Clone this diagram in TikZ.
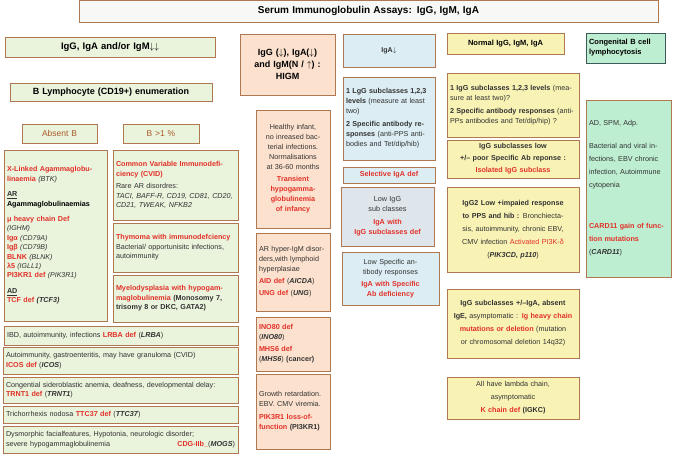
\documentclass[tikz,border=0pt]{standalone}
\usepackage{fontspec}
\setmainfont{Liberation Sans}
\usetikzlibrary{backgrounds}
\definecolor{brd}{RGB}{176,120,80}
\definecolor{gfill}{RGB}{234,243,220}
\definecolor{ofill}{RGB}{252,226,206}
\definecolor{bfill}{RGB}{220,238,244}
\definecolor{bbfill}{RGB}{222,230,236}
\definecolor{yfill}{RGB}{248,242,180}
\definecolor{mfill}{RGB}{190,238,210}
\definecolor{rd}{RGB}{226,48,40}
\definecolor{txt}{RGB}{50,50,50}
\definecolor{abs}{RGB}{170,90,40}
\newcommand\R[1]{\textcolor{rd}{\textbf{#1}}}
\newcommand\BI[1]{\textbf{\textit{#1}}}
\newcommand\bx[7]{%
 \pgfmathsetmacro\bw{#4-#2}\pgfmathsetmacro\bh{#5-#3}\pgfmathsetmacro\tw{#4-#2-6}%
 \node[box,#6,minimum width=\bw pt,minimum height=\bh pt,text width=\tw pt] (#1) at ({(#2+#4)/2},{-(#3+#5)/2}) {#7};}
\newcommand\cn[4]{\coordinate (cx) at (#3,0);\draw[conn,double=#4] (#1.south -| cx) -- (#2.north -| cx);}
\tikzset{
 box/.style={draw=brd,line width=0.8pt,inner xsep=3pt,inner ysep=2pt,text=txt,font=\fontsize{7.2}{9.4}\selectfont},
 G/.style={fill=gfill},O/.style={fill=ofill},B/.style={fill=bfill},BB/.style={fill=bbfill},
 Y/.style={fill=yfill},M/.style={fill=mfill},
 C/.style={align=center},L/.style={align=left},
 hd/.style={font=\fontsize{9.5}{11.5}\selectfont\bfseries,text=black,align=center},
 conn/.style={draw=brd,line width=0.8pt,double distance=4.6pt}
}
\begin{document}
\begin{tikzpicture}[x=1pt,y=1pt]
\useasboundingbox[fill=white] (0,0) rectangle (673,-455);
\bx{top}{79}{0}{658}{22}{fill={rgb,255:red,248;green,248;blue,246},hd,font=\fontsize{10}{12}\selectfont\bfseries}{Serum Immunoglobulin Assays: IgG, IgM, IgA}
% left column
\bx{igg}{5}{37}{215}{57}{G,hd}{IgG, IgA and/or IgM$\downarrow\downarrow$}
\bx{blym}{10}{83}{212}{101}{G,hd,font=\fontsize{9}{11}\selectfont\bfseries}{B Lymphocyte (CD19+) enumeration}
\bx{absb}{22}{124}{97}{143}{G,C,text=abs,font=\fontsize{8.5}{10}\selectfont}{Absent B}
\bx{bone}{123}{124}{199}{143}{G,C,text=abs,font=\fontsize{8.5}{10}\selectfont}{B >1 \%}
\bx{xla}{4}{150}{107}{321}{G,L}{\R{X-Linked Agammaglobu-linaemia} \textit{(BTK)}\\[6pt]
 \textbf{\underline{AR}}\\ \textbf{\textcolor{black}{Agammaglobulinaemias}}\\[6pt]
 \R{μ heavy chain Def}\\ {\scriptsize\textit{(IGHM)}}\\
 \R{Igα} {\scriptsize\textit{(CD79A)}}\\ \R{Igβ} {\scriptsize\textit{(CD79B)}}\\
 \R{BLNK} {\scriptsize\textit{(BLNK)}}\\ \R{λ5} {\scriptsize\textit{(IGLL1)}}\\
 \R{PI3KR1 def} {\scriptsize\textit{(PIK3R1)}}\\[6pt]
 \textbf{\underline{AD}}\\ \R{TCF def} \BI{(TCF3)}}
\bx{cvid}{113}{150}{238}{220}{G,L}{\R{Common Variable Immunodeficiency (CVID)}\\[3pt] Rare AR disordres:\\ \textit{TACI, BAFF-R, CD19, CD81, CD20, CD21, TWEAK, NFKB2}}
\bx{thy}{113}{223}{238}{272}{G,L}{\R{Thymoma with immunodefciency} Bacterial/ opportunisitc infections, autoimmunity}
\bx{mye}{113}{275}{238}{322}{G,L}{\R{Myelodysplasia with hypogammaglobulinemia} \textbf{(Monosomy 7, trisomy 8 or DKC, GATA2)}}
\bx{ibd}{4}{326}{238}{345}{G,L}{IBD, autoimmunity, infections \R{LRBA def} (\BI{LRBA})}
\bx{icos}{3}{347}{238}{374}{G,L}{Autoimmunity, gastroenteritis, may have granuloma (CVID)\\ \R{ICOS def} (\BI{ICOS})}
\bx{trnt}{3}{377}{238}{403}{G,L}{Congential sideroblastic anemia, deafness, developmental delay: \R{TRNT1 def} (\BI{TRNT1})}
\bx{ttc}{3}{406}{238}{423}{G,L}{Trichorrhexis nodosa \R{TTC37 def} (\BI{TTC37})}
\bx{cdg}{3}{426}{238}{453}{G,L}{Dysmorphic facialfeatures, Hypotonia, neurologic disorder;\\ severe hypogammaglobulinemia\hfill\R{CDG-IIb\_}(\BI{MOGS})}
% HIGM column
\bx{higm}{240}{34}{335}{95}{O,hd,font=\fontsize{9}{12}\selectfont\bfseries}{IgG ($\downarrow$), IgA($\downarrow$)\\ and IgM(N / $\uparrow$) :\\ HIGM}
\bx{trans}{256}{110}{330}{228}{O,C,font=\fontsize{7.2}{10}\selectfont}{Healthy infant, no inreased bacterial infections. Normalisations at 36-60 months\\[2pt] \R{Transient hypogamma-globulinemia of infancy}}
\bx{arh}{256}{233}{330}{311}{O,L,font=\fontsize{7.2}{10}\selectfont}{AR hyper-IgM disorders,with lymphoid hyperplasiae\\[2pt] \R{AID def} (\BI{AICDA})\\[2pt] \R{UNG def} (\BI{UNG})}
\bx{ino}{256}{317}{330}{371}{O,L,font=\fontsize{7.2}{10}\selectfont}{\R{INO80 def}\\ (\BI{INO80})\\[2pt] \R{MHS6 def}\\ (\BI{MHS6}) \textbf{(cancer)}}
\bx{grow}{256}{374}{330}{449}{O,L,font=\fontsize{7.2}{10}\selectfont}{Growth retardation. EBV. CMV viremia.\\[3pt] \R{PIK3R1 loss-of-function} \textbf{(PI3KR1)}}
% IgA column
\bx{iga}{343}{34}{435}{67}{B,C,font=\fontsize{7}{9}\selectfont\bfseries}{IgA$\downarrow$}
\bx{igaa}{343}{77}{435}{160}{B,L,font=\fontsize{7.2}{10}\selectfont}{\textbf{1 LgG subclasses 1,2,3 levels} (measure at least two)\\[3pt] \textbf{2 Specific antibody responses} (anti-PPS antibodies and Tet/dip/hib)}
\bx{sel}{343}{167}{435}{183}{B,C}{\R{Selective IgA def}}
\bx{lowg}{341}{187}{434}{246}{BB,C,font=\fontsize{7.2}{10}\selectfont}{Low IgG\\ sub classes\\[3pt] \R{IgA with}\\ \R{IgG subclasses def}}
\bx{lows}{342}{252}{439}{305}{B,C,font=\fontsize{7.2}{10}\selectfont}{Low Specific antibody responses\\[2pt] \R{IgA with Specific Ab deficiency}}
% Normal column
\bx{norm}{447}{33}{564}{54}{Y,C,font=\fontsize{7.5}{9}\selectfont\bfseries,text=black}{Normal IgG, IgM, IgA}
\bx{n1}{447}{73}{579}{137}{Y,L,font=\fontsize{7.2}{10}\selectfont}{\textbf{1 IgG subclasses 1,2,3 levels} (measure at least two)?\\[3pt] \textbf{2 Specific antibody responses} (anti-PPs antibodies and Tet/dip/hip) ?}
\bx{iso}{447}{140}{579}{178}{Y,C,font=\fontsize{7.2}{12}\selectfont}{\textbf{IgG subclasses low}\\ \textbf{+/-- poor Specific Ab reponse :}\\ \R{Isolated IgG subclass}}
\bx{ig2}{447}{187}{579}{272}{Y,C,font=\fontsize{7.2}{13}\selectfont}{\textbf{IgG2 Low +impaied response to PPS and hib :} Bronchiectasis, autoimmunity, chronic EBV, CMV infection \textcolor{rd}{Activated PI3K-δ}\\ (\BI{PIK3CD, p110})}
\bx{igs}{447}{289}{579}{358}{Y,C,font=\fontsize{7.2}{13}\selectfont}{\textbf{IgG subclasses +/--IgA, absent IgE,} asymptomatic : \R{Ig heavy chain mutations or deletion} (mutation or chromosomal deletion 14q32)}
\bx{kch}{447}{377}{579}{419}{Y,C,font=\fontsize{7.2}{13}\selectfont}{All have lambda chain,\\ asymptomatic\\ \R{K chain def} \textbf{(IGKC)}}
% Congenital
\bx{cong}{586}{33}{665}{63}{M,L,draw={rgb,255:red,60;green,90;blue,90},font=\fontsize{7.5}{10}\selectfont\bfseries,text=black}{Congenital B cell lymphocytosis}
\bx{cbig}{586}{100}{671}{277}{M,L,font=\fontsize{7.2}{13}\selectfont}{AD, SPM, Adp.\\[10pt] Bacterial and viral infections, EBV chronic infection, Autoimmune cytopenia\\[28pt] \R{CARD11 gain of function mutations}\\ (\BI{CARD11})}
\begin{pgfonlayer}{background}
\cn{top}{igg}{110}{gfill}
\cn{igg}{blym}{111}{gfill}
\cn{blym}{absb}{60}{gfill}
\cn{blym}{bone}{158}{gfill}
\cn{absb}{xla}{60}{gfill}
\cn{bone}{cvid}{158}{gfill}
\cn{cvid}{thy}{158}{gfill}
\cn{thy}{mye}{158}{gfill}
\cn{mye}{ibd}{158}{gfill}
\cn{ibd}{icos}{158}{gfill}
\cn{icos}{trnt}{158}{gfill}
\cn{trnt}{ttc}{158}{gfill}
\cn{ttc}{cdg}{158}{gfill}
\cn{top}{higm}{283}{ofill}
\cn{higm}{trans}{284}{ofill}
\cn{trans}{arh}{284}{ofill}
\cn{arh}{ino}{284}{ofill}
\cn{ino}{grow}{284}{ofill}
\cn{top}{iga}{395}{bbfill!80!gray}
\cn{iga}{igaa}{395}{bbfill!80!gray}
\cn{igaa}{sel}{395}{bbfill!80!gray}
\cn{top}{norm}{508}{yellow!60!yfill}
\cn{norm}{n1}{508}{yellow!60!yfill}
\cn{n1}{iso}{508}{yellow!60!yfill}
\cn{iso}{ig2}{508}{yellow!60!yfill}
\cn{ig2}{igs}{508}{yellow!60!yfill}
\cn{igs}{kch}{508}{yellow!60!yfill}
\cn{top}{cong}{627}{green!30!mfill}
\cn{cong}{cbig}{627}{green!30!mfill}
\end{pgfonlayer}
\end{tikzpicture}
\end{document}
